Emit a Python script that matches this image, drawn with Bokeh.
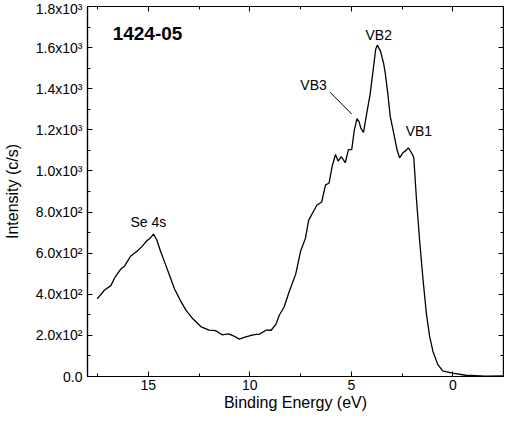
from bokeh.plotting import figure
from bokeh.models import (Range1d, LinearAxis, Label, FixedTicker, ColumnDataSource,
                          CustomLabelingPolicy)
from bokeh.embed import file_html
from bokeh.resources import INLINE

# Binding energy (eV) and intensity (c/s)
energy = [17.52, 17.16, 16.85, 16.65, 16.36, 16.17, 15.88, 15.56, 15.31, 15.07,
          14.91, 14.75, 14.59, 14.40, 14.19, 13.95, 13.71, 13.38, 13.14, 12.82,
          12.42, 12.01, 11.69, 11.37, 11.05, 10.81, 10.52, 10.24, 9.84, 9.52,
          9.19, 8.95, 8.71, 8.55, 8.31, 8.07, 7.74, 7.50, 7.26, 7.10,
          6.70, 6.46, 6.27, 6.10, 5.94, 5.78, 5.65, 5.49, 5.30, 5.14,
          4.98, 4.85, 4.72, 4.62, 4.53, 4.40, 4.24, 4.07, 3.91, 3.80,
          3.72, 3.56, 3.40, 3.32, 3.20, 3.08, 2.91, 2.75, 2.62, 2.46,
          2.30, 2.19, 2.03, 1.92, 1.84, 1.79, 1.63, 1.46, 1.30, 1.14,
          0.98, 0.74, 0.50, 0.01, -0.63, -1.60, -2.50]
intensity = [378, 421, 442, 482, 522, 538, 585, 609, 633, 661,
             673, 693, 665, 609, 554, 490, 426, 362, 322, 282,
             243, 226, 223, 203, 207, 198, 182, 191, 203, 206,
             226, 225, 255, 298, 338, 410, 498, 609, 673, 761,
             833, 849, 932, 940, 1024, 1080, 1048, 1069, 1040, 1104,
             1104, 1200, 1255, 1240, 1208, 1187, 1280, 1375, 1503, 1591,
             1612, 1583, 1519, 1471, 1375, 1264, 1184, 1104, 1064, 1088,
             1100, 1112, 1088, 1064, 940, 865, 657, 466, 306, 195,
             123, 59, 27, 16, 6, 2, 3]

x_ticks = [15, 10, 5, 0]
x_minor = [17.5, 12.5, 7.5, 2.5, -2.5]
y_ticks = [0, 200, 400, 600, 800, 1000, 1200, 1400, 1600, 1800]
y_minor = [100, 300, 500, 700, 900, 1100, 1300, 1500, 1700]
y_tick_labels = ["0.0", "2.0x10\u00b2", "4.0x10\u00b2", "6.0x10\u00b2", "8.0x10\u00b2",
                 "1.0x10\u00b3", "1.2x10\u00b3", "1.4x10\u00b3", "1.6x10\u00b3", "1.8x10\u00b3"]

title_text = "1424-05"
title_pos = (16.76, 1671)
peak_names = ["Se 4s", "VB3", "VB2", "VB1"]
peak_x = [15.0, 6.86, 3.65, 1.67]
peak_y = [752, 1417, 1661, 1192]
leader = dict(x0=[6.05], y0=[1383], x1=[4.98], y1=[1277])

FONT = "Liberation Sans"

p = figure(width=504, height=416, output_backend="svg", toolbar_location=None,
           x_range=Range1d(18, -2.5), y_range=Range1d(0, 1800),
           min_border_left=85, min_border_right=1, min_border_top=6, min_border_bottom=40)
p.outline_line_color = "black"
p.outline_line_width = 1.2
p.grid.visible = False
p.background_fill_color = "white"
p.border_fill_color = "white"

p.line(energy, intensity, line_color="black", line_width=1.3)

hide_all = CustomLabelingPolicy(code="""
const n = indices.size;
for (let i = 0; i < n; i++) { indices.unset(i) }
return indices
""")

def style_axis(ax, show_labels, ticks=None):
    ax.axis_line_color = "black"
    ax.axis_line_width = 1.2
    ax.major_tick_in = 5
    ax.major_tick_out = 0
    ax.minor_tick_in = 3
    ax.minor_tick_out = 0
    ax.major_tick_line_color = "black"
    ax.minor_tick_line_color = "black"
    ax.major_tick_line_width = 1
    ax.minor_tick_line_width = 1
    ax.major_label_text_font = FONT
    ax.major_label_text_color = "black"
    ax.major_label_text_font_size = "14px"
    if not show_labels:
        ax.major_label_policy = hide_all
        ax.major_label_standoff = 0
        ax.major_label_overrides = {v: "" for v in ticks}

xt = FixedTicker(ticks=x_ticks, minor_ticks=x_minor)
yt = FixedTicker(ticks=y_ticks, minor_ticks=y_minor)

xa = p.xaxis[0]
xa.ticker = xt
style_axis(xa, True)
xa.major_label_standoff = 3
xa.axis_label = "Binding Energy (eV)"
xa.axis_label_text_font = FONT
xa.axis_label_text_font_size = "16px"
xa.axis_label_text_font_style = "normal"
xa.axis_label_text_color = "black"
xa.axis_label_standoff = 1

ya = p.yaxis[0]
ya.ticker = yt
style_axis(ya, True)
ya.major_label_standoff = 5
ya.major_label_overrides = {v: s for v, s in zip(y_ticks, y_tick_labels)}
ya.axis_label = "Intensity (c/s)"
ya.axis_label_text_font = FONT
ya.axis_label_text_font_size = "16px"
ya.axis_label_text_font_style = "normal"
ya.axis_label_text_color = "black"
ya.axis_label_standoff = 12

top = LinearAxis(ticker=xt)
style_axis(top, False, x_ticks)
p.add_layout(top, "above")
right = LinearAxis(ticker=yt)
style_axis(right, False, y_ticks)
p.add_layout(right, "right")

p.add_layout(Label(x=title_pos[0], y=title_pos[1], text=title_text, text_font=FONT,
                   text_font_size="19px", text_font_style="bold", text_baseline="middle",
                   text_align="left", text_color="black"))
for name, xx, yy in zip(peak_names, peak_x, peak_y):
    p.add_layout(Label(x=xx, y=yy, text=name, text_font=FONT, text_font_size="14px",
                       text_align="center", text_baseline="middle", text_color="black"))

p.segment(x0="x0", y0="y0", x1="x1", y1="y1", source=ColumnDataSource(leader),
          line_color="black", line_width=1)

open("out.html", "w").write(file_html(p, INLINE))
